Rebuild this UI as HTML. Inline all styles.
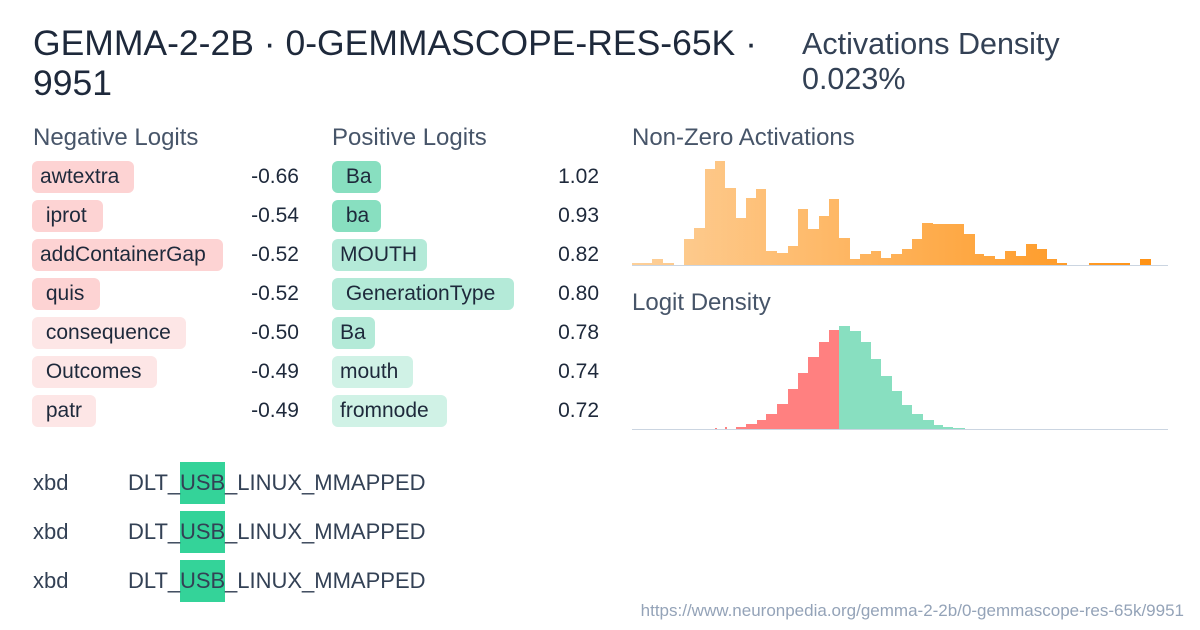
<!DOCTYPE html>
<html><head><meta charset="utf-8"><style>
body{margin:0;width:1200px;height:630px;background:#fff;font-family:"Liberation Sans","DejaVu Sans",sans-serif;color:#1e293b;position:relative;overflow:hidden}
.a{position:absolute;white-space:nowrap}
.t{font-size:35.5px;line-height:40px;color:#1e293b}
.h{font-size:24px;color:#475569}
.p{position:absolute;height:32px;border-radius:6px;font-size:21px;line-height:32px;padding-left:8px;box-sizing:border-box;color:#1e293b}
.v{position:absolute;font-size:21px;line-height:32px;text-align:right;width:80px}
.r{font-size:22px;line-height:42px;color:#334155}
.hl{position:absolute;left:180px;width:45px;height:42px;background:#34d399}
</style></head><body>
<div class="a t" style="left:33px;top:23px">GEMMA-2-2B · 0-GEMMASCOPE-RES-65K ·<br>9951</div>
<div class="a" style="left:802px;top:27px;font-size:30.5px;line-height:35px;color:#334155">Activations Density<br>0.023%</div>
<div class="a h" style="left:33px;top:124px">Negative Logits</div>
<div class="a h" style="left:332px;top:124px">Positive Logits</div>
<div class="a h" style="left:632px;top:124px">Non-Zero Activations</div>
<div class="a h" style="left:632px;top:289px">Logit Density</div>

<div class="p" style="left:32px;top:161px;width:102px;background:#fdd3d3">awtextra</div>
<div class="p" style="left:32px;top:200px;width:71px;background:#fdd3d3">&nbsp;iprot</div>
<div class="p" style="left:32px;top:239px;width:191px;background:#fdd3d3">addContainerGap</div>
<div class="p" style="left:32px;top:278px;width:68px;background:#fdd3d3">&nbsp;quis</div>
<div class="p" style="left:32px;top:317px;width:154px;background:#fde6e6">&nbsp;consequence</div>
<div class="p" style="left:32px;top:356px;width:125px;background:#fde6e6">&nbsp;Outcomes</div>
<div class="p" style="left:32px;top:395px;width:64px;background:#fde6e6">&nbsp;patr</div>
<div class="v" style="left:219px;top:161px">-0.66</div>
<div class="v" style="left:219px;top:200px">-0.54</div>
<div class="v" style="left:219px;top:239px">-0.52</div>
<div class="v" style="left:219px;top:278px">-0.52</div>
<div class="v" style="left:219px;top:317px">-0.50</div>
<div class="v" style="left:219px;top:356px">-0.49</div>
<div class="v" style="left:219px;top:395px">-0.49</div>

<div class="p" style="left:332px;top:161px;width:49px;background:#88dfc0">&nbsp;Ba</div>
<div class="p" style="left:332px;top:200px;width:49px;background:#88dfc0">&nbsp;ba</div>
<div class="p" style="left:332px;top:239px;width:95px;background:#b4ead8">MOUTH</div>
<div class="p" style="left:332px;top:278px;width:182px;background:#b4ead8">&nbsp;GenerationType</div>
<div class="p" style="left:332px;top:317px;width:43px;background:#b4ead8">Ba</div>
<div class="p" style="left:332px;top:356px;width:81px;background:#d0f2e6">mouth</div>
<div class="p" style="left:332px;top:395px;width:115px;background:#d0f2e6">fromnode</div>
<div class="v" style="left:519px;top:161px">1.02</div>
<div class="v" style="left:519px;top:200px">0.93</div>
<div class="v" style="left:519px;top:239px">0.82</div>
<div class="v" style="left:519px;top:278px">0.80</div>
<div class="v" style="left:519px;top:317px">0.78</div>
<div class="v" style="left:519px;top:356px">0.74</div>
<div class="v" style="left:519px;top:395px">0.72</div>

<div class="hl" style="top:462px"></div>
<div class="hl" style="top:511px"></div>
<div class="hl" style="top:560px"></div>
<div class="a r" style="left:33px;top:462px">xbd</div>
<div class="a r" style="left:128px;top:462px">DLT_</div><div class="a r" style="left:180px;top:462px">USB</div><div class="a r" style="left:225px;top:462px">_LINUX_MMAPPED</div>
<div class="a r" style="left:33px;top:511px">xbd</div>
<div class="a r" style="left:128px;top:511px">DLT_</div><div class="a r" style="left:180px;top:511px">USB</div><div class="a r" style="left:225px;top:511px">_LINUX_MMAPPED</div>
<div class="a r" style="left:33px;top:560px">xbd</div>
<div class="a r" style="left:128px;top:560px">DLT_</div><div class="a r" style="left:180px;top:560px">USB</div><div class="a r" style="left:225px;top:560px">_LINUX_MMAPPED</div>
<div class="a" style="right:16px;top:601px;font-size:17px;color:#94a3b8">https://www.neuronpedia.org/gemma-2-2b/0-gemmascope-res-65k/9951</div>

<svg class="a" style="left:0;top:0" width="1200" height="630">
<defs><linearGradient id="g" x1="632" x2="1168" gradientUnits="userSpaceOnUse"><stop offset="0" stop-color="#fdd09a"/><stop offset="1" stop-color="#ff9010"/></linearGradient></defs>
<g fill="url(#g)">
<rect x="632" y="263" width="22" height="2"/><rect x="652" y="259" width="11" height="6"/><rect x="663" y="263" width="11" height="2"/>
<rect x="684" y="239" width="10" height="26"/><rect x="694" y="228" width="11" height="37"/><rect x="705" y="169" width="11" height="96"/><rect x="715" y="161" width="10" height="104"/><rect x="725" y="188" width="11" height="77"/><rect x="736" y="218" width="10" height="47"/><rect x="746" y="198" width="11" height="67"/><rect x="756" y="189" width="10" height="76"/><rect x="766" y="251" width="11" height="14"/><rect x="777" y="253" width="11" height="12"/><rect x="788" y="246" width="10" height="19"/><rect x="798" y="209" width="10" height="56"/><rect x="808" y="229" width="11" height="36"/><rect x="819" y="216" width="10" height="49"/><rect x="829" y="199" width="10" height="66"/><rect x="839" y="238" width="11" height="27"/><rect x="850" y="259" width="11" height="6"/><rect x="860" y="254" width="11" height="11"/><rect x="871" y="251" width="10" height="14"/><rect x="881" y="258" width="10" height="7"/><rect x="891" y="254" width="11" height="11"/><rect x="902" y="249" width="10" height="16"/><rect x="912" y="239" width="11" height="26"/><rect x="922" y="223" width="11" height="42"/><rect x="933" y="224" width="31" height="41"/><rect x="964" y="234" width="11" height="31"/><rect x="974" y="254" width="10" height="11"/><rect x="984" y="256" width="11" height="9"/><rect x="995" y="259" width="10" height="6"/><rect x="1005" y="251" width="11" height="14"/><rect x="1016" y="256" width="10" height="9"/><rect x="1026" y="244" width="11" height="21"/><rect x="1036" y="249" width="11" height="16"/><rect x="1047" y="259" width="10" height="6"/><rect x="1057" y="263" width="10" height="2"/><rect x="1089" y="263" width="41" height="2"/><rect x="1140" y="259" width="11" height="6"/>
</g>
<rect x="632" y="265" width="536" height="1" fill="#cbd5e1"/>
<g fill="#ff8080">
<rect x="715" y="428" width="2" height="1"/><rect x="725" y="427" width="2" height="2"/>
<rect x="736" y="427" width="10" height="2"/><rect x="746" y="424" width="11" height="5"/><rect x="757" y="420" width="10" height="9"/><rect x="766" y="414" width="11" height="15"/><rect x="777" y="404" width="11" height="25"/><rect x="788" y="389" width="10" height="40"/><rect x="798" y="373" width="10" height="56"/><rect x="808" y="357" width="11" height="72"/><rect x="819" y="342" width="10" height="87"/><rect x="829" y="330" width="10" height="99"/>
</g>
<g fill="#88dfc0">
<rect x="839" y="326" width="11" height="103"/><rect x="850" y="331" width="11" height="98"/><rect x="861" y="342" width="10" height="87"/><rect x="871" y="359" width="10" height="70"/><rect x="881" y="376" width="11" height="53"/><rect x="892" y="391" width="10" height="38"/><rect x="902" y="405" width="10" height="24"/><rect x="912" y="414" width="11" height="15"/><rect x="923" y="420" width="11" height="9"/><rect x="933" y="425" width="10" height="4"/><rect x="943" y="427" width="10" height="2"/><rect x="953" y="428" width="12" height="1"/>
</g>
<rect x="632" y="429" width="536" height="1" fill="#cbd5e1"/>
</svg>
</body></html>
